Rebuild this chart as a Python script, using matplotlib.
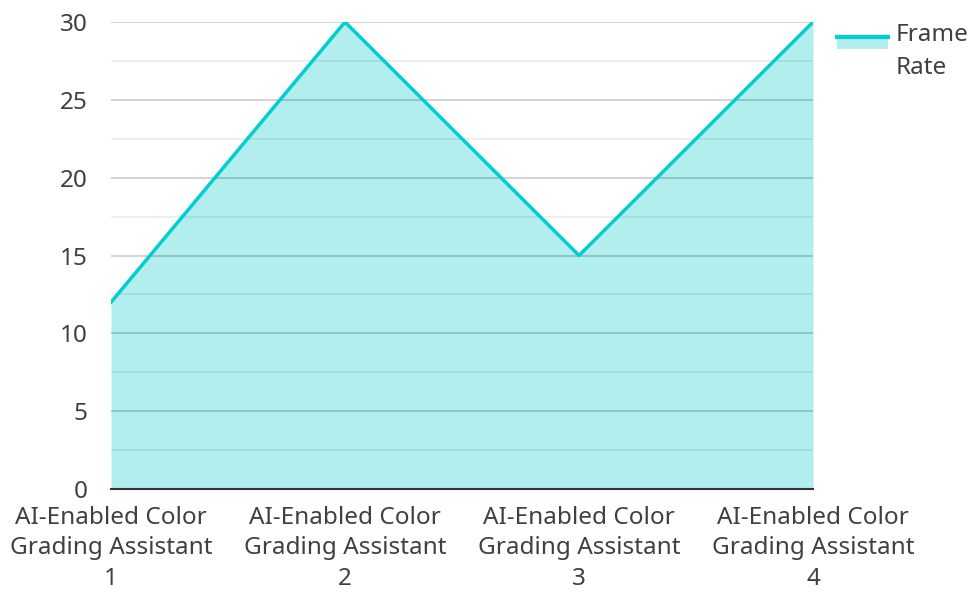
import matplotlib.pyplot as plt
from matplotlib.legend_handler import HandlerBase
from matplotlib.patches import Rectangle
from matplotlib.lines import Line2D

plt.rcParams['font.family'] = ['Noto Sans', 'DejaVu Sans']

categories = ['AI-Enabled Color\nGrading Assistant\n1',
              'AI-Enabled Color\nGrading Assistant\n2',
              'AI-Enabled Color\nGrading Assistant\n3',
              'AI-Enabled Color\nGrading Assistant\n4']
frame_rate = [12, 30, 15, 30]
y_ticks = [0, 5, 10, 15, 20, 25, 30]
series_name = 'Frame\nRate'

line_color = '#00CED1'
fill_color = '#b2eeee'
text_color = '#404040'


class AreaHandler(HandlerBase):
    # line sitting on top of a filled box, like the reference legend
    def create_artists(self, legend, orig_handle, xdescent, ydescent,
                       width, height, fontsize, trans):
        top = height * 1.35
        bot = top - height * 0.7
        rect = Rectangle((-xdescent, bot), width, top - bot,
                         facecolor=fill_color, edgecolor='none', transform=trans)
        ln = Line2D([-xdescent, -xdescent + width], [top, top],
                    color=line_color, lw=3, transform=trans)
        return [rect, ln]


fig = plt.figure(figsize=(9.73, 5.92), dpi=100)
ax = fig.add_axes([0.1141, 0.174, 0.7215, 0.7888])

x = list(range(len(categories)))
ax.fill_between(x, frame_rate, 0, color=fill_color, lw=0, zorder=1)
ax.plot(x, frame_rate, color=line_color, lw=2.5, zorder=3)

ax.set_xlim(0, len(categories) - 1)
ax.set_ylim(0, 30)
ax.set_yticks(y_ticks)
ax.set_yticks([2.5, 7.5, 12.5, 17.5, 22.5, 27.5], minor=True)
ax.set_xticks(x)
ax.set_xticklabels(categories, linespacing=1.38)

ax.grid(axis='y', which='major', color='black', alpha=0.2, lw=1.2, zorder=2)
ax.grid(axis='y', which='minor', color='black', alpha=0.08, lw=1.2, zorder=2)
ax.set_axisbelow(False)

for s in ['left', 'right', 'top']:
    ax.spines[s].set_visible(False)
ax.spines['bottom'].set_color('#333333')
ax.spines['bottom'].set_linewidth(1.5)
ax.spines['bottom'].set_zorder(4)

ax.tick_params(axis='both', which='both', length=0, labelsize=17.5, colors=text_color)
ax.tick_params(axis='y', pad=17)
ax.tick_params(axis='x', pad=12)

handle = Rectangle((0, 0), 1, 1)
leg = ax.legend([handle], [series_name], handler_map={Rectangle: AreaHandler()},
                loc='upper left', bbox_to_anchor=(1.01, 1.035), frameon=False,
                fontsize=17.5, handlelength=2.1, handletextpad=0.3,
                labelcolor=text_color, borderpad=0.2)
for t in leg.get_texts():
    t.set_linespacing(1.5)

fig.savefig('out.png', dpi=100)
